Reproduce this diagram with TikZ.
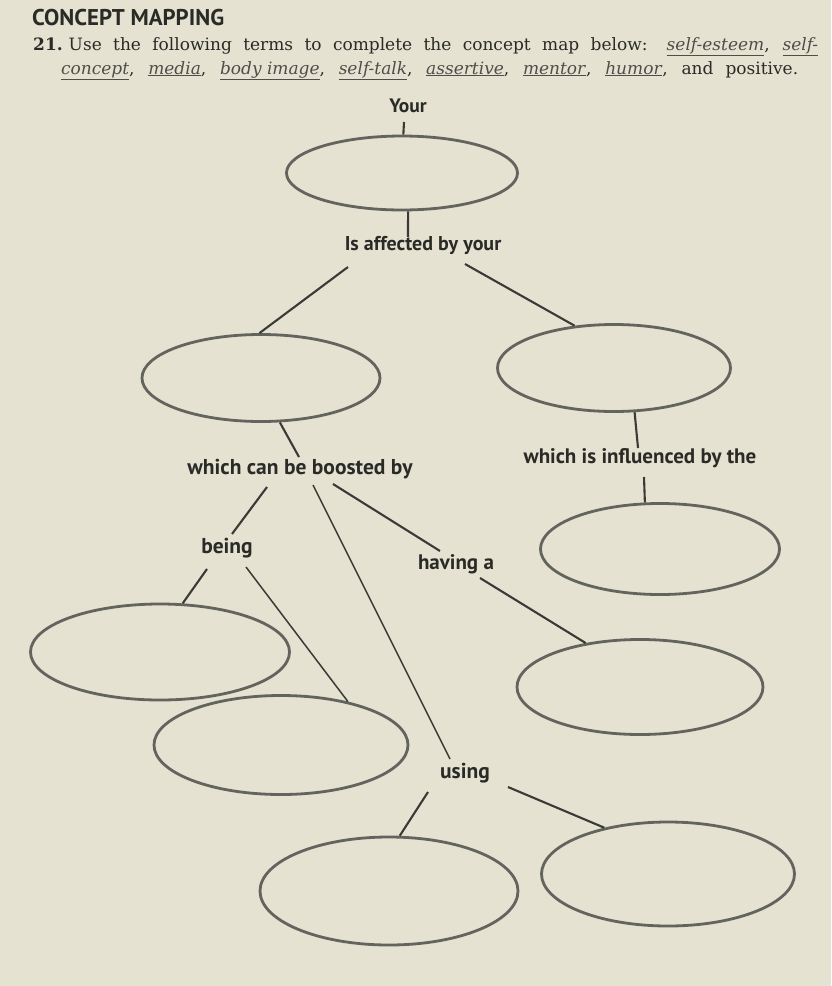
\documentclass[tikz,border=0pt]{standalone}
\usepackage{fontspec}
\setmainfont{DejaVu Serif}
\setsansfont{PT Sans}
\usetikzlibrary{shapes.geometric,calc}
\definecolor{paper}{RGB}{229,226,210}
\definecolor{ink}{RGB}{42,42,38}
\definecolor{termink}{RGB}{78,78,72}
\definecolor{rim}{RGB}{100,100,94}
\definecolor{wire}{RGB}{58,58,54}
\newcommand{\cmterm}[1]{{\color{termink}\underline{\textit{#1}}}}
\begin{document}
\begin{tikzpicture}[x=1pt,y=-1pt,
  bubble/.style={ellipse, draw=rim, line width=2.8pt, inner sep=0pt},
  cmtext/.style={font=\sffamily\bfseries\fontsize{#1}{#1}\selectfont, text=ink, inner sep=0pt},
  wireline/.style={draw=wire, line width=2.1pt},
  thinline/.style={draw=wire, line width=1.5pt}]
\fill[paper] (0,0) rectangle (831,986);
\useasboundingbox (0,0) rectangle (831,986);

% header
\node[anchor=base west, inner sep=0pt, text=ink, font=\sffamily\bfseries\fontsize{22.8}{22.8}\selectfont] (title) at (32,25) {CONCEPT MAPPING};
\node[anchor=base west, inner sep=0pt, text=ink, font=\fontsize{17}{17}\selectfont] (line1) at (33,50)
  {\makebox[785pt][s]{\textbf{21.}\hspace{0.35em}Use the following terms to complete the concept map below: \cmterm{self-esteem}, \cmterm{self-}}};
\node[anchor=base west, inner sep=0pt, text=ink, font=\fontsize{17}{17}\selectfont] (line2) at (61,74)
  {\makebox[737pt][s]{\cmterm{concept}, \cmterm{media}, \cmterm{body image}, \cmterm{self-talk}, \cmterm{assertive}, \cmterm{mentor}, \cmterm{humor}, and positive.}};

% ellipses
\node[bubble, minimum width=231pt, minimum height=74pt] (e1) at (402,173) {};
\node[bubble, minimum width=238pt, minimum height=87pt] (e2) at (261,378) {};
\node[bubble, minimum width=233pt, minimum height=87pt] (e3) at (614,368) {};
\node[bubble, minimum width=239pt, minimum height=91pt] (e4) at (660,549) {};
\node[bubble, minimum width=259pt, minimum height=96pt] (e5) at (160,652) {};
\node[bubble, minimum width=254pt, minimum height=99pt] (e6) at (281,745) {};
\node[bubble, minimum width=246pt, minimum height=95pt] (e7) at (640,687) {};
\node[bubble, minimum width=258pt, minimum height=108pt] (e8) at (389,891) {};
\node[bubble, minimum width=253pt, minimum height=104pt] (e9) at (668,874) {};

% linking words
\node[cmtext=19.5] (your) at (408,106) {Your};
\node[cmtext=20] (aff) at (423,245) {Is affected by your};
\node[cmtext=21.5] (boost) at (300,469) {which can be boosted by};
\node[cmtext=21] (infl) at (640,458) {which is influenced by the};
\node[cmtext=21.5] (being) at (227,548) {being};
\node[cmtext=21] (having) at (456,564) {having a};
\node[cmtext=21.5] (using) at (465,773) {using};

% connectors
\draw[wireline] ($(your)+(-4,16)$) -- (e1.88);
\draw[wireline] (e1.279) -- ($(aff)+(-15,-8)$);
\draw[wireline] ($(aff)+(-75,22)$) -- (e2.92);
\draw[wireline] ($(aff)+(42,19)$) -- (e3.133);
\draw[wireline] (e2.293) -- ($(boost)+(-1,-12)$);
\draw[wireline] (e3.295) -- ($(infl)+(-2,-10)$);
\draw[wireline] ($(infl)+(4,19)$) -- (e4.108);
\draw[wireline] ($(boost)+(-33,18)$) -- ($(being)+(5,-14)$);
\draw[thinline] ($(boost)+(13,16)$) -- ($(using)+(-15,-14)$);
\draw[wireline] ($(boost)+(33,15)$) -- ($(having)+(-16,-13)$);
\draw[wireline] ($(being)+(-20,21)$) -- (e5.65);
\draw[thinline] ($(being)+(19,19)$) -- (e6.33);
\draw[wireline] ($(having)+(24,14)$) -- (e7.141);
\draw[wireline] ($(using)+(-37,19)$) -- (e8.79);
\draw[wireline] ($(using)+(43,14)$) -- (e9.144);
\end{tikzpicture}
\end{document}
